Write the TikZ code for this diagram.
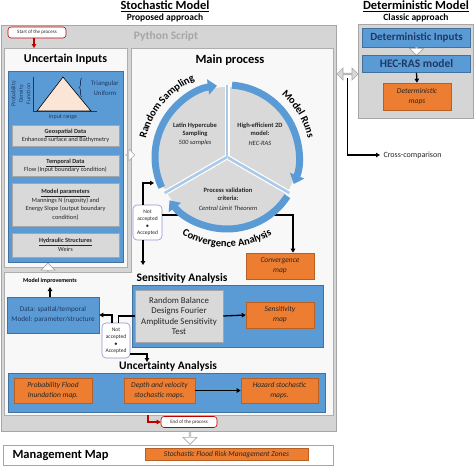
\documentclass[tikz,border=0pt]{standalone}
\usepackage{fontspec}
\setmainfont{Carlito}
\usetikzlibrary{arrows.meta,shapes.arrows,decorations.text,decorations.pathreplacing,calc}
\definecolor{mblue}{HTML}{5B9BD5}
\definecolor{mbluedk}{HTML}{41719C}
\definecolor{lblue}{HTML}{BDD7EE}
\definecolor{morange}{HTML}{ED7D31}
\definecolor{morangedk}{HTML}{B85F24}
\definecolor{mgray}{HTML}{D9D9D9}
\definecolor{dgray}{HTML}{A6A6A6}
\definecolor{navy}{HTML}{1F3864}
\definecolor{panel}{HTML}{F8F8F8}
\definecolor{outer}{HTML}{D5D5D5}
\definecolor{peach}{HTML}{FBE5D6}
\definecolor{redc}{HTML}{C00000}
\definecolor{txt}{HTML}{262626}
\newcommand\fsz[2]{\fontsize{#1}{#2}\selectfont}
\tikzset{
  bx/.style 2 args={minimum width=#1pt, minimum height=#2pt, inner sep=0pt, align=center},
  bluebox/.style={fill=mblue, draw=mbluedk, line width=0.6pt},
  graybox/.style={fill=mgray, draw=dgray, line width=0.5pt, text=txt, font=\fsz{6.3}{8.5}},
  orangebox/.style={fill=morange, draw=morangedk, line width=0.6pt, text=txt, font=\itshape\fsz{7.5}{10}},
  decbox/.style={fill=white, draw=gray!60!blue!60, rounded corners=4pt, line width=0.6pt, text=txt, font=\fsz{5.5}{7}},
  redbox/.style={fill=white, draw=redc, rounded corners=3pt, line width=0.6pt, text=txt, font=\fsz{5}{6}},
  panelbox/.style={fill=panel, draw=mgray!80!black, line width=0.8pt},
  arr/.style={-{Triangle[length=4pt,width=4.5pt]}, line width=1.3pt, black},
  redarr/.style={-{Triangle[length=4pt,width=4.5pt]}, line width=1.3pt, redc},
  hollow/.style={single arrow, draw=dgray, fill=white, line width=0.6pt, inner sep=0pt, single arrow head extend=2.5pt},
  ringarr/.style={mblue, line width=7pt, -{Triangle[width=15pt,length=9pt]}},
  sectxt/.style={align=center, text=txt, font=\fsz{6.5}{8}},
}
\begin{document}
\begin{tikzpicture}[x=1pt,y=1pt]
\useasboundingbox (0,0) rectangle (474,-466);

% ---------- titles
\node[font=\bfseries\fsz{12.5}{14}] (stt) at (165,-6) {\underline{Stochastic Model}};
\node[font=\bfseries\fsz{9.5}{11}] (stt2) at (165,-18) {Proposed approach};
\node[font=\bfseries\fsz{12.5}{14}] (dtt) at (416,-6) {\underline{Deterministic Model}};
\node[font=\bfseries\fsz{9.5}{11}] (dtt2) at (416,-18) {Classic approach};

% ---------- outer python box
\node[fill=outer, draw=dgray, line width=0.8pt, bx={335}{406}] (py) at (169,-228) {};
\node[font=\bfseries\fsz{11.5}{13}, text=dgray] (pyt) at (166,-36) {Python Script};

% panels
\node[panelbox, bx={123}{219}] (uip) at (65.5,-157.5) {};
\path[panelbox] (131,-48) -- (333,-48) -- (333,-415) -- (4,-415) -- (4,-272) -- (131,-272) -- cycle;

% start of process
\node[redbox, bx={58}{11}] (startp) at (37,-32.5) {Start of the process};
\coordinate (uitop) at (34,-48);
\draw[redarr] (startp.south -| uitop) -- (uitop);

% ---------- uncertain inputs
\node[font=\bfseries\fsz{12}{14}, text=black] (uit) at (65.5,-59) {Uncertain Inputs};
\node[bluebox, bx={115}{191}] (uib) at (65.5,-166.5) {};
% graph
\coordinate (ax0) at (33,-111);
\draw[navy, line width=1pt] (33,-77) -- (ax0) -- (97,-111);
\draw[black, fill=peach, line width=0.6pt] (37,-111) -- (63,-77) -- (91,-111) -- cycle;
\draw[navy, line width=0.6pt, decorate, decoration={brace, amplitude=3pt}] (82,-97) -- (82,-78);
\node[align=center, text=navy, font=\fsz{6.8}{9.5}] (tri) at (105,-88) {Triangular\\Uniform};
\node[rotate=90, align=center, text=navy, font=\fsz{5.8}{7.5}] (pdf) at (21,-94) {Probability\\Density\\Function};
\node[text=navy, font=\fsz{6}{7}] (ir) at (63,-117.5) {Input range};
% gray boxes
\node[graybox, bx={107}{21}] (geo) at (65.5,-136) {\textbf{\underline{Geospatial Data}}\\Enhanced surface and Bathymetry};
\node[graybox, bx={107}{21}] (temp) at (65.5,-166) {\textbf{\underline{Temporal Data}}\\Flow (Input boundary condition)};
\node[graybox, bx={107}{43}] (par) at (65.5,-204.5) {\textbf{\underline{Model parameters}}\\Mannings N (rugosity) and\\Energy Slope (output boundary\\condition)};
\node[graybox, bx={107}{24}] (hyd) at (65.5,-245) {\textbf{\underline{Hydraulic Structures}}\\Weirs};

% hollow arrows around left panel
\node[hollow, minimum height=9pt, minimum width=12pt] (ha1) at (130,-155) {};
\node[hollow, minimum height=9pt, minimum width=14pt, shape border rotate=90] (ha2) at (48,-268) {};

% ---------- main process
\node[font=\bfseries\fsz{12.5}{14}] (mpt) at (230,-60) {Main process};
\coordinate (C) at (227,-157);

% decision box 1 and its lines (behind circle)
\node[decbox, bx={29}{35}] (nb1) at (147.5,-222.5) {Not\\accepted\\$\bullet$\\Accepted};
\node[orangebox, bx={68}{26}] (conv) at (280,-266) {Convergence\\map};
\draw[arr] ($(nb1.east)+(0,7.5)$) -| ($(conv.north)+(13,0)$);

\fill[mgray] (C) circle[radius=70pt];
\foreach \a in {90,-30,210} {
  \draw[white, line width=5pt] (C) -- ++(\a:72pt);
  \draw[lblue!80!mblue, line width=2.6pt] (C) -- ++(\a:72pt);
}
\draw[ringarr] ($(C)+(205:72pt)$) arc[start angle=205, end angle=98, radius=72pt];
\draw[ringarr] ($(C)+(86:72pt)$) arc[start angle=86, end angle=-22, radius=72pt];
\draw[ringarr] ($(C)+(-33:72pt)$) arc[start angle=-33, end angle=-143, radius=72pt];

\path[decorate, decoration={text along path, text align=center, text={|\bfseries\fsz{10.5}{12}|Random Sampling}}]
  ($(C)+(178:83pt)$) arc[start angle=178, end angle=102, radius=83pt];
\path[decorate, decoration={text along path, text align=center, text={|\bfseries\fsz{10.5}{12}|Model Runs}}]
  ($(C)+(62:83pt)$) arc[start angle=62, end angle=0, radius=83pt];
\path[decorate, decoration={text along path, text align=center, text={|\bfseries\fsz{10.5}{12}|Convergence Analysis}}]
  ($(C)+(225:90pt)$) arc[start angle=225, end angle=315, radius=90pt];

\node[sectxt] (lhs) at (195,-134) {\textbf{Latin Hypercube}\\\textbf{Sampling}\\[1.5pt]\textit{500 samples}};
\node[sectxt] (hec) at (260,-134) {\textbf{High-efficient 2D}\\\textbf{model:}\\[1.5pt]\textit{HEC-RAS}};
\node[sectxt] (pvc) at (228,-199) {\textbf{Process validation}\\\textbf{criteria:}\\[1.5pt]\textit{Central Limit Theorem}};

\coordinate (ringin) at (154,-183);
\coordinate (sain) at (143,-265);
\draw[arr] ($(nb1.north)+(-4.5,0)$) |- (ringin);
\draw[arr] ($(nb1.south)+(-4.5,0)$) -- (sain);

% ---------- sensitivity
\node[font=\bfseries\fsz{11.5}{13}] (sat) at (182,-278) {Sensitivity Analysis};
\node[bluebox, bx={191}{62}] (sab) at (227.5,-316) {};
\node[graybox, bx={88}{52}, font=\fsz{8.8}{10.5}] (sgray) at (179,-316) {Random Balance\\Designs Fourier\\Amplitude Sensitivity\\Test};
\node[orangebox, bx={68}{26}] (smap) at (280,-315) {Sensitivity\\map};
\draw[arr] (sgray.east) -- (smap.west);

\node[bluebox, bx={92}{36}, text=navy, font=\fsz{7.2}{10}] (data) at (53,-315) {Data: spatial/temporal\\Model: parameter/structure};
\node[font=\bfseries\fsz{6}{7}] (mi) at (50,-281) {Model improvements};
\draw[arr] (data.north -| mi.south) -- (mi.south);

\node[decbox, bx={28}{35}] (nb2) at (116,-340.5) {Not\\accepted\\$\bullet$\\Accepted};
\draw[line width=1.3pt] (sgray.west) -| ($(nb2.north)+(2.5,0)$);
\draw[arr] ($(nb2.north)+(-4,0)$) |- (data.east);
\coordinate (uain) at (147,-362);
\draw[arr] ($(nb2.east)+(0,-13.5)$) -| (uain);

% ---------- uncertainty
\node[font=\bfseries\fsz{11.5}{13}] (uat) at (168,-366) {Uncertainty Analysis};
\node[bluebox, bx={317}{39}] (uab) at (166.5,-392.5) {};
\node[orangebox, bx={78}{25}] (pf) at (53,-390.5) {Probability Flood\\Inundation map.};
\node[orangebox, bx={71}{25}] (dv) at (159.5,-390.5) {Depth and velocity\\stochastic maps.};
\node[orangebox, bx={77}{25}] (hz) at (279.5,-390.5) {Hazard stochastic\\maps.};
\draw[arr] (dv.east) -- (hz.west);

% end of process
\node[redbox, bx={56}{11}] (endp) at (189,-422) {End of the process};
\coordinate (ep0) at (148,-415);
\draw[redarr] (ep0) |- (endp.west);

% ---------- management map
\node[hollow, minimum height=13pt, minimum width=14pt, shape border rotate=270] (ha3) at (190,-437.5) {};
\node[fill=white, draw=dgray, line width=0.8pt, bx={330}{20}] (mm) at (168,-455) {};
\node[font=\bfseries\fsz{12.5}{14}, anchor=west] (mmt) at (9,-455.5) {Management Map};
\node[orangebox, bx={163}{12}] (zones) at (226.5,-454.5) {Stochastic Flood Risk Management Zones};

% ---------- deterministic
\node[fill=outer, draw=dgray, line width=0.8pt, bx={115}{94}] (det) at (415.5,-71) {};
\node[bluebox, bx={108}{19}, text=navy, font=\bfseries\fsz{11}{12}] (dinp) at (416.5,-37.5) {Deterministic Inputs};
\node[hollow, minimum height=8pt, minimum width=14pt, shape border rotate=270] (ha4) at (416.5,-51) {};
\node[bluebox, bx={108}{17}, text=navy, font=\bfseries\fsz{11.5}{12}] (hecm) at (416.5,-64) {HEC-RAS model};
\node[orangebox, bx={68}{27}] (dmap) at (417,-96.5) {Deterministic\\maps};
\draw[arr] (hecm.south) -- (dmap.north);

% cross comparison
\coordinate (dblb) at (347.5,-78);
\coordinate (cc1) at (347.5,-155);
\node[font=\fsz{8}{9}, anchor=west, text=txt] (cct) at (380,-155) {Cross-comparison};
\draw[arr] (dblb) -- (cc1) -- (cct.west);
\node[double arrow, draw=dgray, fill=mgray, line width=0.6pt, inner sep=0pt, minimum height=21pt, minimum width=12pt, double arrow head extend=2pt] (dbl) at (347.5,-74) {};
\end{tikzpicture}
\end{document}
